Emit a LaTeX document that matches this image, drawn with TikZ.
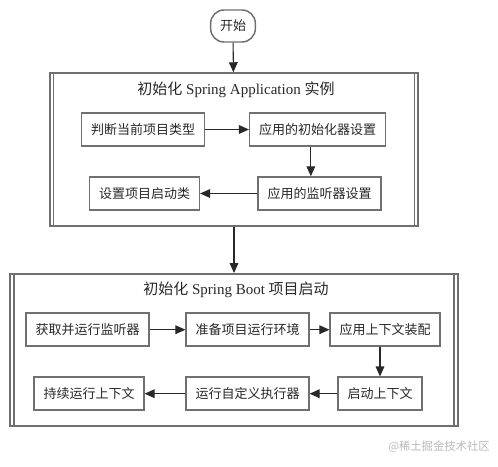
\documentclass[tikz,border=0pt]{standalone}
\usepackage{fontspec}
\setmainfont{Liberation Serif}
\newfontfamily\cjk{Noto Sans CJK SC}
\usepackage{tikz}
\usetikzlibrary{arrows.meta}
\definecolor{framegray}{RGB}{112,112,112}
\definecolor{inkgray}{RGB}{40,40,40}

\begin{document}
\begin{tikzpicture}[x=0.75pt,y=-0.75pt,
	stepbox/.style={draw=framegray, line width=1.1pt, inner xsep=7pt, inner ysep=0pt, minimum height=24.75pt, font=\cjk\fontsize{9.75}{10}\selectfont, text=inkgray},
	framebox/.style={draw=framegray, line width=1.1pt, inner sep=0pt},
	flow/.style={-{Triangle[length=7.5pt,width=6.5pt]}, line width=0.8pt, draw=inkgray}]
		\useasboundingbox[fill=white] (0,0) rectangle (498,466);
		% start
		\node[stepbox, rounded corners=10pt, minimum height=24pt] (start) at (233,26) {开始};
		% first stage
		\node[framebox, minimum width=276pt, minimum height=114.75pt] (appinit) at (234,149.5) {};
		\draw[framegray, line width=1.1pt] ([xshift=3pt]appinit.north west) -- ([xshift=3pt]appinit.south west);
		\draw[framegray, line width=1.1pt] ([xshift=-3pt]appinit.north east) -- ([xshift=-3pt]appinit.south east);
		\node[text=inkgray, font=\fontsize{11.25}{12}\selectfont] (apptitle) at (236,90) {{\cjk 初始化} Spring Application {\cjk 实例}};
		\node[stepbox] (apptype) at (143,129.5) {判断当前项目类型};
		\node[stepbox] (appinitz) at (317.5,129.5) {应用的初始化器设置};
		\node[stepbox] (applisten) at (319.5,193.5) {应用的监听器设置};
		\node[stepbox] (appmain) at (144.5,193.5) {设置项目启动类};
		% second stage
		\node[framebox, minimum width=336pt, minimum height=114pt] (bootrun) at (234,349.8) {};
		\draw[framegray, line width=1.1pt] ([xshift=3.5pt]bootrun.north west) -- ([xshift=3.5pt]bootrun.south west);
		\draw[framegray, line width=1.1pt] ([xshift=-3.5pt]bootrun.north east) -- ([xshift=-3.5pt]bootrun.south east);
		\node[text=inkgray, font=\fontsize{11.25}{12}\selectfont] (boottitle) at (236,290) {{\cjk 初始化} Spring Boot {\cjk 项目启动}};
		\node[stepbox] (listeners) at (87.5,329.7) {获取并运行监听器};
		\node[stepbox] (environ) at (247.5,329.7) {准备项目运行环境};
		\node[stepbox] (prepctx) at (385,329.7) {应用上下文装配};
		\node[stepbox] (refresh) at (380,393.7) {启动上下文};
		\node[stepbox] (runners) at (247.5,393.7) {运行自定义执行器};
		\node[stepbox] (running) at (89,393.7) {持续运行上下文};
		% arrows
		\draw[flow] (start) -- (appinit);
		\draw[flow] (apptype) -- (appinitz);
		\draw[flow] ([xshift=-5pt]appinitz.south) -- ([xshift=-5pt]appinitz.south |- applisten.north);
		\draw[flow] (applisten) -- (appmain);
		\draw[flow] (appinit) -- (bootrun);
		\draw[flow] (listeners) -- (environ);
		\draw[flow] (environ) -- (prepctx);
		\draw[flow] (refresh.north |- prepctx.south) -- (refresh.north);
		\draw[flow] (refresh) -- (runners);
		\draw[flow] (runners) -- (running);
		% watermark
		\node[text=gray!55, font=\cjk\fontsize{8.5}{9}\selectfont] (mark) at (439,447) {@稀土掘金技术社区};
\end{tikzpicture}
\end{document}
